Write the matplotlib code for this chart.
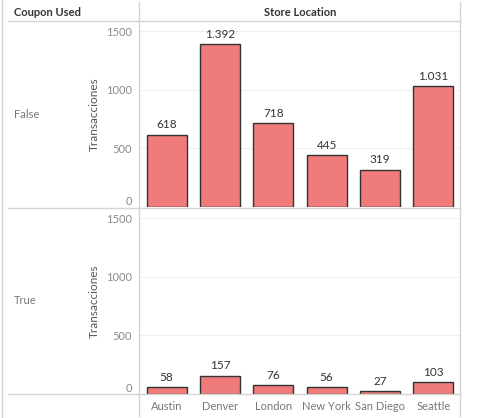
import matplotlib
matplotlib.use("Agg")
import matplotlib.pyplot as plt
from matplotlib.lines import Line2D

stores = ["Austin", "Denver", "London", "New York", "San Diego", "Seattle"]
coupon_rows = ["False", "True"]
trans_false = [618, 1392, 718, 445, 319, 1031]
trans_true = [58, 157, 76, 56, 27, 103]
y_ticks = [0, 500, 1000, 1500]

plt.rcParams['font.family'] = ['Lato', 'DejaVu Sans']

W, H = 480, 418
fig = plt.figure(figsize=(W / 100, H / 100), dpi=100)


def fx(px):
    return px / W


def fy(py):
    return 1 - py / H


def fmt(v):
    return f"{v:,}".replace(",", ".")


bar_color = "#F07B7B"
grid_color = "#EFEFEF"
line_color = "#D4D4D4"

panels = [
    (coupon_rows[0], trans_false, 21, 207),
    (coupon_rows[1], trans_true, 208, 394),
]

for i, (row_name, values, top_px, bot_px) in enumerate(panels):
    ax = fig.add_axes([fx(140), fy(bot_px), fx(320), (bot_px - top_px) / H])
    ax.set_xlim(-0.5, len(stores) - 0.5)
    ax.set_ylim(0, (bot_px - top_px) / 0.1173)
    for y in y_ticks[1:]:
        ax.axhline(y, color=grid_color, lw=0.8, zorder=0)
    bars = ax.bar(range(len(stores)), values, width=0.75, color=bar_color,
                  edgecolor="#333333", linewidth=1.0, zorder=2)
    for b, v in zip(bars, values):
        ax.annotate(fmt(v), (b.get_x() + b.get_width() / 2, v),
                    xytext=(0, 3), textcoords="offset points",
                    ha="center", va="bottom", fontsize=8.5, color="#333333")
    for s in ax.spines.values():
        s.set_visible(False)
    ax.set_yticks(y_ticks)
    ax.set_yticklabels([str(t) for t in y_ticks])
    ax.tick_params(axis="y", length=0, labelsize=8, colors="#8A8A8A", pad=6)
    ax.get_yticklabels()[0].set_va("bottom")
    ax.set_ylabel("Transacciones", fontsize=8.5, color="#555555")
    ax.yaxis.set_label_coords(-0.125, 0.5)
    if i == 1:
        ax.set_xticks(range(len(stores)))
        ax.set_xticklabels(stores)
        ax.tick_params(axis="x", length=0, labelsize=8, colors="#777777", pad=5)
    else:
        ax.set_xticks([])
    fig.text(fx(14), fy((top_px + bot_px) / 2), row_name, fontsize=8,
             color="#777777", ha="left", va="center")

# header texts
fig.text(fx(14), fy(13), "Coupon Used", fontsize=8, fontweight="bold",
         color="#333333", ha="left", va="center")
fig.text(fx(300), fy(13), "Store Location", fontsize=8, fontweight="bold",
         color="#333333", ha="center", va="center")

# table lines
fig.add_artist(Line2D([fx(8), fx(460)], [fy(21), fy(21)], color=line_color, lw=1))
fig.add_artist(Line2D([fx(8), fx(460)], [fy(207.5), fy(207.5)], color=line_color, lw=1))
fig.add_artist(Line2D([fx(8), fx(460)], [fy(394), fy(394)], color=line_color, lw=1))
fig.add_artist(Line2D([fx(139), fx(139)], [fy(2), fy(416)], color=line_color, lw=1))
fig.add_artist(Line2D([fx(460), fx(460)], [fy(2), fy(416)], color=line_color, lw=1))
fig.add_artist(Line2D([fx(1.5), fx(1.5)], [fy(0), fy(418)], color=line_color, lw=1))

fig.savefig("out.png", dpi=100)
